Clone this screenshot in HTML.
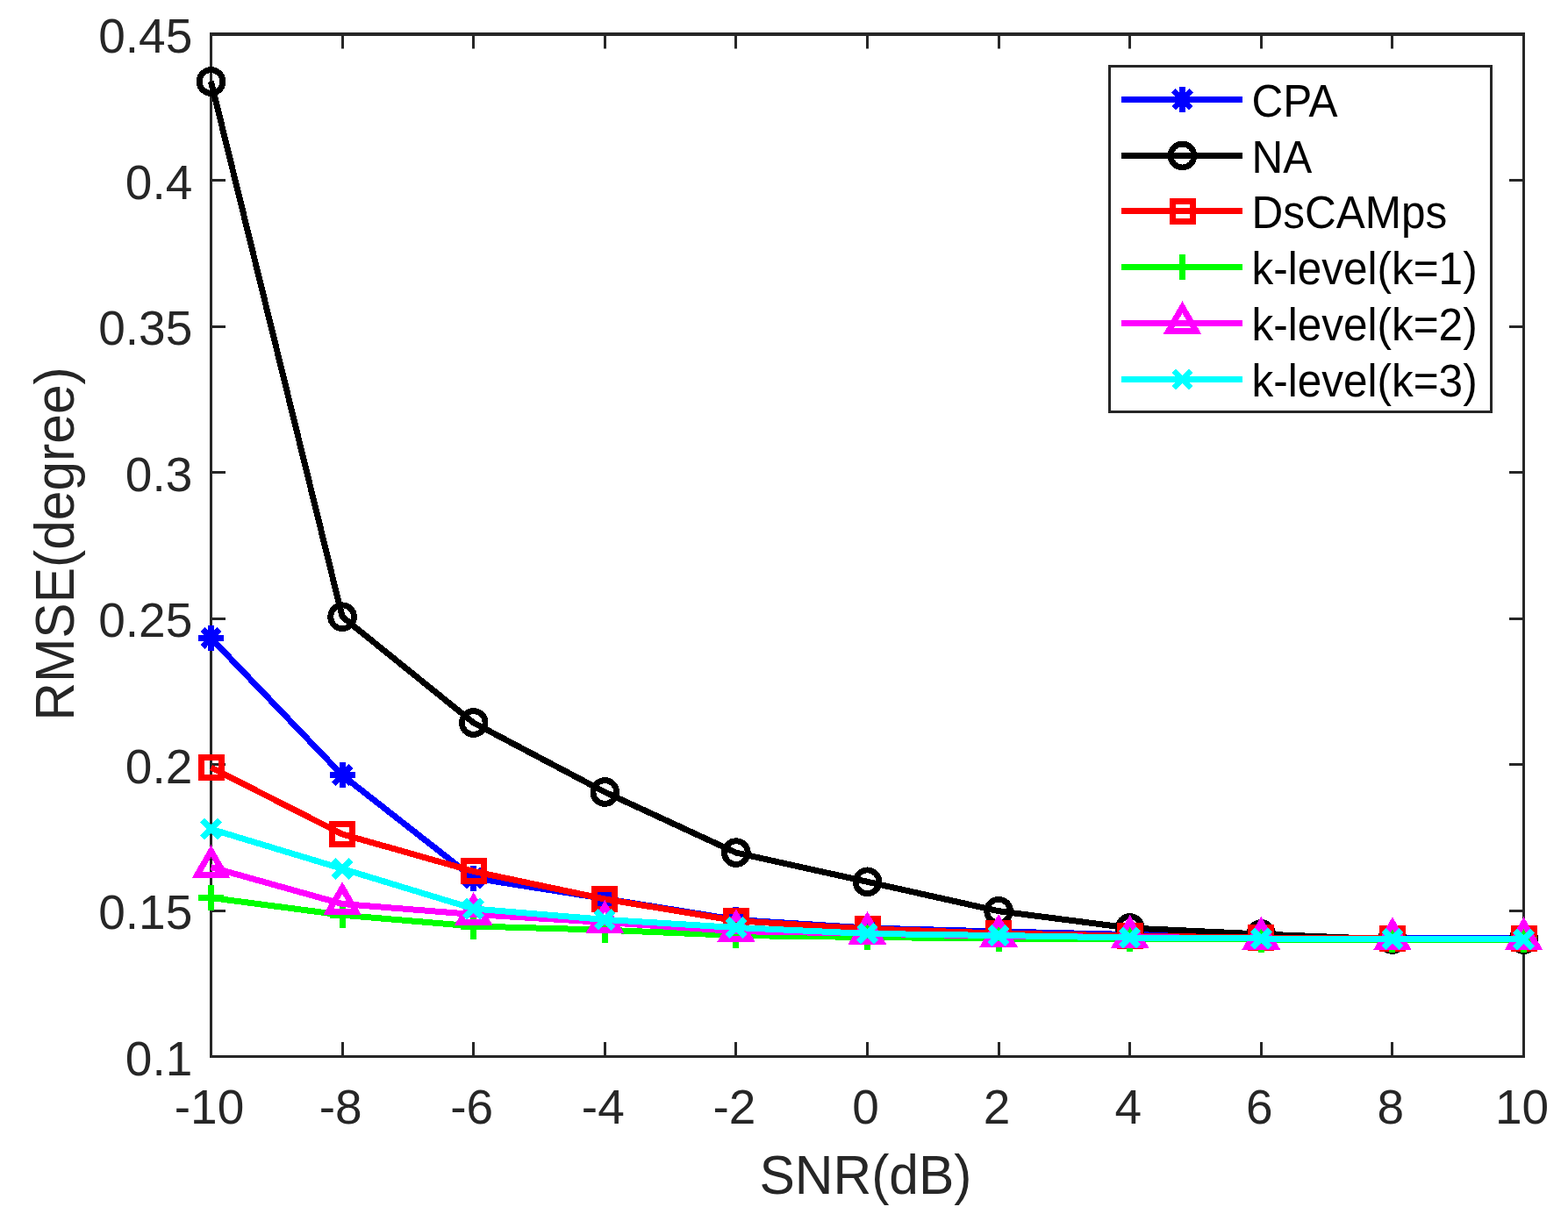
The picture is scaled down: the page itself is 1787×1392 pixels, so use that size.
<!DOCTYPE html>
<html><head><meta charset="utf-8"><title>RMSE vs SNR</title>
<style>html,body{margin:0;padding:0;background:#fff;width:1787px;height:1392px;overflow:hidden}
svg{display:block}
text{font-family:"Liberation Sans",Arial,Helvetica,sans-serif}</style></head>
<body>
<svg width="1787" height="1392" viewBox="0 0 1787 1392">
<rect x="0" y="0" width="1787" height="1392" fill="#fff"/>
<path d="M240.5 1204.5V1188.0M240.5 39V55.5M390.5 1204.5V1188.0M390.5 39V55.5M539.5 1204.5V1188.0M539.5 39V55.5M689.5 1204.5V1188.0M689.5 39V55.5M838.5 1204.5V1188.0M838.5 39V55.5M988.5 1204.5V1188.0M988.5 39V55.5M1138.5 1204.5V1188.0M1138.5 39V55.5M1287.5 1204.5V1188.0M1287.5 39V55.5M1437.5 1204.5V1188.0M1437.5 39V55.5M1586.5 1204.5V1188.0M1586.5 39V55.5M1736.5 1204.5V1188.0M1736.5 39V55.5M240.5 1204.5H257.0M1736.5 1204.5H1720.0M240.5 1038.5H257.0M1736.5 1038.5H1720.0M240.5 871.5H257.0M1736.5 871.5H1720.0M240.5 705.5H257.0M1736.5 705.5H1720.0M240.5 538.5H257.0M1736.5 538.5H1720.0M240.5 372.5H257.0M1736.5 372.5H1720.0M240.5 205.5H257.0M1736.5 205.5H1720.0M240.5 38.5H257.0M1736.5 38.5H1720.0" stroke="#262626" stroke-width="3" fill="none"/>
<path d="M240.5 37V1206.0M1736.5 37V1206.0M239.0 1204.5H1738.0" stroke="#262626" stroke-width="3" fill="none"/>
<path d="M239.0 39H1738.0" stroke="#262626" stroke-width="4" fill="none"/>
<g fill="#262626" font-size="55">
<text transform="translate(238.5,1280.6) scale(1,1.0)" text-anchor="middle">-10</text>
<text transform="translate(388.1,1280.6) scale(1,1.0)" text-anchor="middle">-8</text>
<text transform="translate(537.7,1280.6) scale(1,1.0)" text-anchor="middle">-6</text>
<text transform="translate(687.3,1280.6) scale(1,1.0)" text-anchor="middle">-4</text>
<text transform="translate(836.9,1280.6) scale(1,1.0)" text-anchor="middle">-2</text>
<text transform="translate(986.5,1280.6) scale(1,1.0)" text-anchor="middle">0</text>
<text transform="translate(1136.1,1280.6) scale(1,1.0)" text-anchor="middle">2</text>
<text transform="translate(1285.7,1280.6) scale(1,1.0)" text-anchor="middle">4</text>
<text transform="translate(1435.3,1280.6) scale(1,1.0)" text-anchor="middle">6</text>
<text transform="translate(1584.9,1280.6) scale(1,1.0)" text-anchor="middle">8</text>
<text transform="translate(1734.5,1280.6) scale(1,1.0)" text-anchor="middle">10</text>
<text transform="translate(219.3,1225.9) scale(1,1.0)" text-anchor="end">0.1</text>
<text transform="translate(219.3,1059.4) scale(1,1.0)" text-anchor="end">0.15</text>
<text transform="translate(219.3,892.9) scale(1,1.0)" text-anchor="end">0.2</text>
<text transform="translate(219.3,726.4) scale(1,1.0)" text-anchor="end">0.25</text>
<text transform="translate(219.3,559.9) scale(1,1.0)" text-anchor="end">0.3</text>
<text transform="translate(219.3,393.4) scale(1,1.0)" text-anchor="end">0.35</text>
<text transform="translate(219.3,226.9) scale(1,1.0)" text-anchor="end">0.4</text>
<text transform="translate(219.3,60.4) scale(1,1.0)" text-anchor="end">0.45</text>
</g>
<text fill="#262626" font-size="60.5" transform="translate(986.5,1361) scale(1,1.05)" text-anchor="middle">SNR(dB)</text>
<text fill="#262626" font-size="60.5" transform="translate(84,620) rotate(-90) scale(1,1.05)" text-anchor="middle">RMSE(degree)</text>
<polyline points="240.5,727.5 390.1,883.8 539.7,1001.0 689.3,1024.5 838.9,1048.5 988.5,1058.0 1138.1,1062.0 1287.7,1065.5 1437.3,1068.5 1586.9,1069.3 1736.5,1070.0" stroke="#0000ff" stroke-width="7" fill="none" stroke-linejoin="round" shape-rendering="crispEdges"/>
<g shape-rendering="crispEdges"><path d="M240.5 713.0V742.0M226.0 727.5H255.0M230.6 717.5L250.4 737.5M230.6 737.5L250.4 717.5" stroke="#0000ff" stroke-width="7" fill="none"/><path d="M390.1 869.3V898.3M375.6 883.8H404.6M380.2 873.8L400.1 893.8M380.2 893.8L400.1 873.8" stroke="#0000ff" stroke-width="7" fill="none"/><path d="M539.7 986.5V1015.5M525.2 1001.0H554.2M529.8 991.0L549.7 1011.0M529.8 1011.0L549.7 991.0" stroke="#0000ff" stroke-width="7" fill="none"/><path d="M689.3 1010.0V1039.0M674.8 1024.5H703.8M679.3 1014.5L699.2 1034.5M679.3 1034.5L699.2 1014.5" stroke="#0000ff" stroke-width="7" fill="none"/><path d="M838.9 1034.0V1063.0M824.4 1048.5H853.4M828.9 1038.5L848.9 1058.5M828.9 1058.5L848.9 1038.5" stroke="#0000ff" stroke-width="7" fill="none"/><path d="M988.5 1043.5V1072.5M974.0 1058.0H1003.0M978.5 1048.0L998.5 1068.0M978.5 1068.0L998.5 1048.0" stroke="#0000ff" stroke-width="7" fill="none"/><path d="M1138.1 1047.5V1076.5M1123.6 1062.0H1152.6M1128.1 1052.0L1148.0 1072.0M1128.1 1072.0L1148.0 1052.0" stroke="#0000ff" stroke-width="7" fill="none"/><path d="M1287.7 1051.0V1080.0M1273.2 1065.5H1302.2M1277.8 1055.5L1297.7 1075.5M1277.8 1075.5L1297.7 1055.5" stroke="#0000ff" stroke-width="7" fill="none"/><path d="M1437.3 1054.0V1083.0M1422.8 1068.5H1451.8M1427.3 1058.5L1447.2 1078.5M1427.3 1078.5L1447.2 1058.5" stroke="#0000ff" stroke-width="7" fill="none"/><path d="M1586.9 1054.8V1083.8M1572.4 1069.3H1601.4M1577.0 1059.3L1596.9 1079.2M1577.0 1079.2L1596.9 1059.3" stroke="#0000ff" stroke-width="7" fill="none"/><path d="M1736.5 1055.5V1084.5M1722.0 1070.0H1751.0M1726.5 1060.0L1746.5 1080.0M1726.5 1080.0L1746.5 1060.0" stroke="#0000ff" stroke-width="7" fill="none"/></g>
<polyline points="240.5,93.0 390.1,703.2 539.7,824.0 689.3,903.0 838.9,972.1 988.5,1005.3 1138.1,1038.7 1287.7,1058.0 1437.3,1065.0 1586.9,1071.0 1736.5,1071.0" stroke="#000000" stroke-width="7" fill="none" stroke-linejoin="round" shape-rendering="crispEdges"/>
<g shape-rendering="crispEdges"><circle cx="240.5" cy="93.0" r="13.4" stroke="#000000" stroke-width="6.8" fill="none"/><circle cx="390.1" cy="703.2" r="13.4" stroke="#000000" stroke-width="6.8" fill="none"/><circle cx="539.7" cy="824.0" r="13.4" stroke="#000000" stroke-width="6.8" fill="none"/><circle cx="689.3" cy="903.0" r="13.4" stroke="#000000" stroke-width="6.8" fill="none"/><circle cx="838.9" cy="972.1" r="13.4" stroke="#000000" stroke-width="6.8" fill="none"/><circle cx="988.5" cy="1005.3" r="13.4" stroke="#000000" stroke-width="6.8" fill="none"/><circle cx="1138.1" cy="1038.7" r="13.4" stroke="#000000" stroke-width="6.8" fill="none"/><circle cx="1287.7" cy="1058.0" r="13.4" stroke="#000000" stroke-width="6.8" fill="none"/><circle cx="1437.3" cy="1065.0" r="13.4" stroke="#000000" stroke-width="6.8" fill="none"/><circle cx="1586.9" cy="1071.0" r="13.4" stroke="#000000" stroke-width="6.8" fill="none"/><circle cx="1736.5" cy="1071.0" r="13.4" stroke="#000000" stroke-width="6.8" fill="none"/></g>
<polyline points="240.5,875.0 390.1,951.0 539.7,993.4 689.3,1025.0 838.9,1049.7 988.5,1059.0 1138.1,1064.0 1287.7,1067.0 1437.3,1069.0 1586.9,1070.0 1736.5,1070.0" stroke="#ff0000" stroke-width="7" fill="none" stroke-linejoin="round" shape-rendering="crispEdges"/>
<g shape-rendering="crispEdges"><rect x="229.0" y="863.5" width="23.0" height="23.0" stroke="#ff0000" stroke-width="7" fill="none"/><rect x="378.6" y="939.5" width="23.0" height="23.0" stroke="#ff0000" stroke-width="7" fill="none"/><rect x="528.2" y="981.9" width="23.0" height="23.0" stroke="#ff0000" stroke-width="7" fill="none"/><rect x="677.8" y="1013.5" width="23.0" height="23.0" stroke="#ff0000" stroke-width="7" fill="none"/><rect x="827.4" y="1038.2" width="23.0" height="23.0" stroke="#ff0000" stroke-width="7" fill="none"/><rect x="977.0" y="1047.5" width="23.0" height="23.0" stroke="#ff0000" stroke-width="7" fill="none"/><rect x="1126.6" y="1052.5" width="23.0" height="23.0" stroke="#ff0000" stroke-width="7" fill="none"/><rect x="1276.2" y="1055.5" width="23.0" height="23.0" stroke="#ff0000" stroke-width="7" fill="none"/><rect x="1425.8" y="1057.5" width="23.0" height="23.0" stroke="#ff0000" stroke-width="7" fill="none"/><rect x="1575.4" y="1058.5" width="23.0" height="23.0" stroke="#ff0000" stroke-width="7" fill="none"/><rect x="1725.0" y="1058.5" width="23.0" height="23.0" stroke="#ff0000" stroke-width="7" fill="none"/></g>
<polyline points="240.5,1023.5 390.1,1043.2 539.7,1056.0 689.3,1060.2 838.9,1066.5 988.5,1068.5 1138.1,1070.0 1287.7,1070.5 1437.3,1071.0 1586.9,1071.3 1736.5,1071.3" stroke="#00ff00" stroke-width="7" fill="none" stroke-linejoin="round" shape-rendering="crispEdges"/>
<g shape-rendering="crispEdges"><path d="M240.5 1009.0V1038.0M226.0 1023.5H255.0" stroke="#00ff00" stroke-width="7" fill="none"/><path d="M390.1 1028.7V1057.7M375.6 1043.2H404.6" stroke="#00ff00" stroke-width="7" fill="none"/><path d="M539.7 1041.5V1070.5M525.2 1056.0H554.2" stroke="#00ff00" stroke-width="7" fill="none"/><path d="M689.3 1045.7V1074.7M674.8 1060.2H703.8" stroke="#00ff00" stroke-width="7" fill="none"/><path d="M838.9 1052.0V1081.0M824.4 1066.5H853.4" stroke="#00ff00" stroke-width="7" fill="none"/><path d="M988.5 1054.0V1083.0M974.0 1068.5H1003.0" stroke="#00ff00" stroke-width="7" fill="none"/><path d="M1138.1 1055.5V1084.5M1123.6 1070.0H1152.6" stroke="#00ff00" stroke-width="7" fill="none"/><path d="M1287.7 1056.0V1085.0M1273.2 1070.5H1302.2" stroke="#00ff00" stroke-width="7" fill="none"/><path d="M1437.3 1056.5V1085.5M1422.8 1071.0H1451.8" stroke="#00ff00" stroke-width="7" fill="none"/><path d="M1586.9 1056.8V1085.8M1572.4 1071.3H1601.4" stroke="#00ff00" stroke-width="7" fill="none"/><path d="M1736.5 1056.8V1085.8M1722.0 1071.3H1751.0" stroke="#00ff00" stroke-width="7" fill="none"/></g>
<polyline points="240.5,988.6 390.1,1030.5 539.7,1042.5 689.3,1051.5 838.9,1061.6 988.5,1064.2 1138.1,1067.3 1287.7,1068.4 1437.3,1070.0 1586.9,1070.6 1736.5,1070.6" stroke="#ff00ff" stroke-width="7" fill="none" stroke-linejoin="round" shape-rendering="crispEdges"/>
<g shape-rendering="crispEdges"><path d="M240.5 970.2L256.4 997.8H224.6Z" stroke="#ff00ff" stroke-width="7" fill="none" stroke-miterlimit="10"/><path d="M390.1 1012.1L406.0 1039.7H374.2Z" stroke="#ff00ff" stroke-width="7" fill="none" stroke-miterlimit="10"/><path d="M539.7 1024.1L555.6 1051.7H523.8Z" stroke="#ff00ff" stroke-width="7" fill="none" stroke-miterlimit="10"/><path d="M689.3 1033.1L705.2 1060.7H673.4Z" stroke="#ff00ff" stroke-width="7" fill="none" stroke-miterlimit="10"/><path d="M838.9 1043.2L854.8 1070.8H823.0Z" stroke="#ff00ff" stroke-width="7" fill="none" stroke-miterlimit="10"/><path d="M988.5 1045.8L1004.4 1073.4H972.6Z" stroke="#ff00ff" stroke-width="7" fill="none" stroke-miterlimit="10"/><path d="M1138.1 1048.9L1154.0 1076.5H1122.2Z" stroke="#ff00ff" stroke-width="7" fill="none" stroke-miterlimit="10"/><path d="M1287.7 1050.0L1303.6 1077.6H1271.8Z" stroke="#ff00ff" stroke-width="7" fill="none" stroke-miterlimit="10"/><path d="M1437.3 1051.6L1453.2 1079.2H1421.4Z" stroke="#ff00ff" stroke-width="7" fill="none" stroke-miterlimit="10"/><path d="M1586.9 1052.2L1602.8 1079.8H1571.0Z" stroke="#ff00ff" stroke-width="7" fill="none" stroke-miterlimit="10"/><path d="M1736.5 1052.2L1752.4 1079.8H1720.6Z" stroke="#ff00ff" stroke-width="7" fill="none" stroke-miterlimit="10"/></g>
<polyline points="240.5,945.2 390.1,990.4 539.7,1036.0 689.3,1048.4 838.9,1057.5 988.5,1064.4 1138.1,1066.5 1287.7,1069.0 1437.3,1070.0 1586.9,1070.5 1736.5,1070.8" stroke="#00ffff" stroke-width="7" fill="none" stroke-linejoin="round" shape-rendering="crispEdges"/>
<g shape-rendering="crispEdges"><path d="M230.6 935.3L250.4 955.1M230.6 955.1L250.4 935.3" stroke="#00ffff" stroke-width="7" fill="none"/><path d="M380.2 980.5L400.0 1000.3M380.2 1000.3L400.0 980.5" stroke="#00ffff" stroke-width="7" fill="none"/><path d="M529.8 1026.1L549.6 1045.9M529.8 1045.9L549.6 1026.1" stroke="#00ffff" stroke-width="7" fill="none"/><path d="M679.4 1038.5L699.2 1058.3M679.4 1058.3L699.2 1038.5" stroke="#00ffff" stroke-width="7" fill="none"/><path d="M829.0 1047.6L848.8 1067.4M829.0 1067.4L848.8 1047.6" stroke="#00ffff" stroke-width="7" fill="none"/><path d="M978.6 1054.5L998.4 1074.3M978.6 1074.3L998.4 1054.5" stroke="#00ffff" stroke-width="7" fill="none"/><path d="M1128.2 1056.6L1148.0 1076.4M1128.2 1076.4L1148.0 1056.6" stroke="#00ffff" stroke-width="7" fill="none"/><path d="M1277.8 1059.1L1297.6 1078.9M1277.8 1078.9L1297.6 1059.1" stroke="#00ffff" stroke-width="7" fill="none"/><path d="M1427.4 1060.1L1447.2 1079.9M1427.4 1079.9L1447.2 1060.1" stroke="#00ffff" stroke-width="7" fill="none"/><path d="M1577.0 1060.6L1596.8 1080.4M1577.0 1080.4L1596.8 1060.6" stroke="#00ffff" stroke-width="7" fill="none"/><path d="M1726.6 1060.9L1746.4 1080.7M1726.6 1080.7L1746.4 1060.9" stroke="#00ffff" stroke-width="7" fill="none"/></g>
<rect x="1264.5" y="75.5" width="435" height="394" fill="#fff" stroke="#262626" stroke-width="3"/>
<g shape-rendering="crispEdges"><path d="M1278 113.5H1416" stroke="#0000ff" stroke-width="7"/><path d="M1347.5 99.0V128.0M1333.0 113.5H1362.0M1337.5 103.5L1357.5 123.5M1337.5 123.5L1357.5 103.5" stroke="#0000ff" stroke-width="7" fill="none"/></g>
<text fill="#000" font-size="49.5" transform="translate(1426.5,132.8) scale(1,1.056)">CPA</text>
<g shape-rendering="crispEdges"><path d="M1278 177.5H1416" stroke="#000000" stroke-width="7"/><circle cx="1347.5" cy="177.5" r="13.4" stroke="#000000" stroke-width="6.8" fill="none"/></g>
<text fill="#000" font-size="49.5" transform="translate(1426.5,196.8) scale(1,1.056)">NA</text>
<g shape-rendering="crispEdges"><path d="M1278 240.5H1416" stroke="#ff0000" stroke-width="7"/><rect x="1336.0" y="229.0" width="23.0" height="23.0" stroke="#ff0000" stroke-width="7" fill="none"/></g>
<text fill="#000" font-size="49.5" transform="translate(1426.5,259.8) scale(1,1.056)">DsCAMps</text>
<g shape-rendering="crispEdges"><path d="M1278 304.5H1416" stroke="#00ff00" stroke-width="7"/><path d="M1347.5 290.0V319.0M1333.0 304.5H1362.0" stroke="#00ff00" stroke-width="7" fill="none"/></g>
<text fill="#000" font-size="49.5" transform="translate(1426.5,323.8) scale(1,1.056)">k-level(k=1)</text>
<g shape-rendering="crispEdges"><path d="M1278 368.5H1416" stroke="#ff00ff" stroke-width="7"/><path d="M1347.5 350.1L1363.4 377.7H1331.6Z" stroke="#ff00ff" stroke-width="7" fill="none" stroke-miterlimit="10"/></g>
<text fill="#000" font-size="49.5" transform="translate(1426.5,387.8) scale(1,1.056)">k-level(k=2)</text>
<g shape-rendering="crispEdges"><path d="M1278 432.5H1416" stroke="#00ffff" stroke-width="7"/><path d="M1337.6 422.6L1357.4 442.4M1337.6 442.4L1357.4 422.6" stroke="#00ffff" stroke-width="7" fill="none"/></g>
<text fill="#000" font-size="49.5" transform="translate(1426.5,451.8) scale(1,1.056)">k-level(k=3)</text>
</svg>
</body></html>
